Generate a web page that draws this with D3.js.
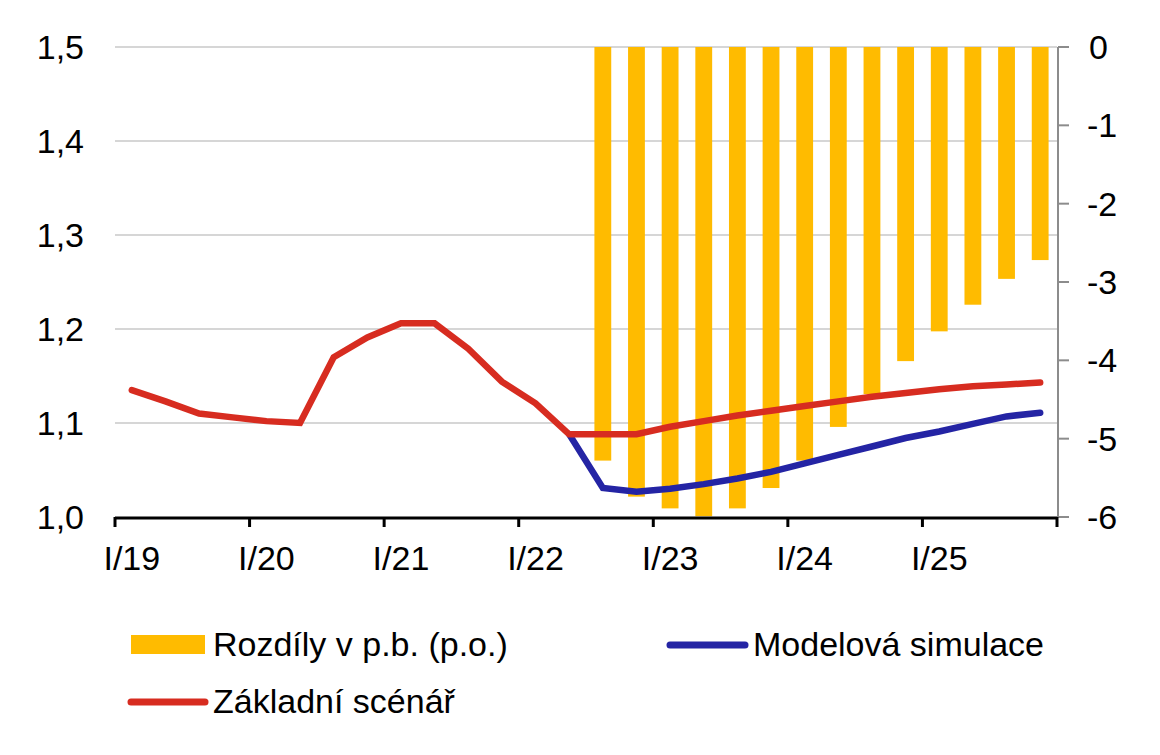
<!DOCTYPE html>
<html>
<head>
<meta charset="utf-8">
<script src="https://cdn.jsdelivr.net/npm/d3@7/dist/d3.min.js"></script>
<style>
  body { margin: 0; background: #fff; }
  text { font-family: "Liberation Sans", Arial, sans-serif; fill: #000; font-size: 34px; }
</style>
</head>
<body>
<div id="chart"></div>
<script>
// quarters I/19 .. IV/25
const years = ['19', '20', '21', '22', '23', '24', '25'];
const quarters = [];
years.forEach(y => ['I', 'II', 'III', 'IV'].forEach(q => quarters.push(q + '/' + y)));

const baseline = [1.135, 1.123, 1.110, 1.106, 1.102, 1.100, 1.170, 1.191, 1.206, 1.206,
  1.179, 1.144, 1.121, 1.088, 1.088, 1.088, 1.096, 1.102, 1.108, 1.113,
  1.118, 1.123, 1.128, 1.132, 1.136, 1.139, 1.141, 1.143];
// simulation starts at II/22
const simulation = [null, null, null, null, null, null, null, null, null, null,
  null, null, null, 1.088, 1.031, 1.027, 1.030, 1.035, 1.041, 1.048,
  1.057, 1.066, 1.075, 1.084, 1.091, 1.099, 1.107, 1.111];
// differences in p.p. (right axis), from III/22
const diffs = [null, null, null, null, null, null, null, null, null, null,
  null, null, null, null, -5.28, -5.74, -5.89, -5.99, -5.89, -5.63,
  -5.28, -4.85, -4.43, -4.01, -3.63, -3.29, -2.96, -2.72];

const leftTicks = [1.0, 1.1, 1.2, 1.3, 1.4, 1.5];
const rightTicks = [0, -1, -2, -3, -4, -5, -6];

const width = 1160, height = 755;
const plotL = 115, plotR = 1057, plotT = 47, plotB = 517;

const svg = d3.select('#chart').append('svg')
  .attr('width', width)
  .attr('height', height);

const x = d3.scaleBand().domain(quarters).range([plotL, plotR]);
const yL = d3.scaleLinear().domain([1.0, 1.5]).range([plotB, plotT]);
const yR = d3.scaleLinear().domain([-6, 0]).range([plotB, plotT]);

// gridlines
svg.append('g').selectAll('line')
  .data(leftTicks.filter(d => d > 1.0))
  .enter().append('line')
  .attr('x1', plotL).attr('x2', plotR)
  .attr('y1', d => yL(d)).attr('y2', d => yL(d))
  .attr('stroke', '#c8c8c8').attr('stroke-width', 1.5);

// left tick labels
svg.append('g').selectAll('text')
  .data(leftTicks)
  .enter().append('text')
  .attr('x', 84)
  .attr('y', d => yL(d) + 12)
  .attr('text-anchor', 'end')
  .text(d => d3.format('.1f')(d).replace('.', ','));

// bars
const barW = x.bandwidth() * 0.5;
svg.append('g').selectAll('rect')
  .data(quarters.map((q, i) => ({ q, v: diffs[i] })).filter(d => d.v != null))
  .enter().append('rect')
  .attr('x', d => x(d.q) + (x.bandwidth() - barW) / 2)
  .attr('width', barW)
  .attr('y', yR(0))
  .attr('height', d => yR(d.v) - yR(0))
  .attr('fill', '#ffbb00');

// right axis
const rAxis = svg.append('g');
rAxis.append('line')
  .attr('x1', plotR + 1).attr('x2', plotR + 1)
  .attr('y1', plotT).attr('y2', plotB)
  .attr('stroke', '#8c8c8c').attr('stroke-width', 2);
rAxis.selectAll('line.t')
  .data(rightTicks)
  .enter().append('line').attr('class', 't')
  .attr('x1', plotR + 1).attr('x2', plotR + 12)
  .attr('y1', d => yR(d)).attr('y2', d => yR(d))
  .attr('stroke', '#8c8c8c').attr('stroke-width', 2);
rAxis.selectAll('text')
  .data(rightTicks)
  .enter().append('text')
  .attr('x', d => d === 0 ? 1089 : 1087)
  .attr('y', d => yR(d) + 12)
  .text(d => d === 0 ? '0' : '-' + Math.abs(d));

// lines
const line = d3.line()
  .defined(d => d.v != null)
  .x(d => x(d.q) + x.bandwidth() / 2)
  .y(d => yL(d.v));

svg.append('path')
  .datum(quarters.map((q, i) => ({ q, v: simulation[i] })))
  .attr('d', line)
  .attr('fill', 'none')
  .attr('stroke', '#2424a4')
  .attr('stroke-width', 6.5)
  .attr('stroke-linecap', 'round');

svg.append('path')
  .datum(quarters.map((q, i) => ({ q, v: baseline[i] })))
  .attr('d', line)
  .attr('fill', 'none')
  .attr('stroke', '#d72c20')
  .attr('stroke-width', 6.5)
  .attr('stroke-linecap', 'round');

// bottom axis
const xAxis = svg.append('g');
xAxis.append('line')
  .attr('x1', plotL).attr('x2', plotR)
  .attr('y1', plotB + 1).attr('y2', plotB + 1)
  .attr('stroke', '#000').attr('stroke-width', 3);
xAxis.selectAll('line.t')
  .data(years.concat(['end']))
  .enter().append('line').attr('class', 't')
  .attr('x1', (d, i) => plotL + i * 4 * x.step())
  .attr('x2', (d, i) => plotL + i * 4 * x.step())
  .attr('y1', plotB).attr('y2', plotB + 10)
  .attr('stroke', '#000').attr('stroke-width', 3);
xAxis.selectAll('text')
  .data(years)
  .enter().append('text')
  .attr('x', d => x('I/' + d) + x.bandwidth() / 2)
  .attr('y', 570)
  .attr('text-anchor', 'middle')
  .text(d => 'I/' + d);

// legend
const legend = svg.append('g');
legend.append('rect')
  .attr('x', 131).attr('y', 635).attr('width', 74).attr('height', 19)
  .attr('fill', '#ffbb00');
legend.append('text').attr('x', 213).attr('y', 656)
  .text('Rozdíly v p.b. (p.o.)');

legend.append('line')
  .attr('x1', 670).attr('x2', 745).attr('y1', 645).attr('y2', 645)
  .attr('stroke', '#2424a4').attr('stroke-width', 7).attr('stroke-linecap', 'round');
legend.append('text').attr('x', 753).attr('y', 656)
  .text('Modelová simulace');

legend.append('line')
  .attr('x1', 131).attr('x2', 205).attr('y1', 702).attr('y2', 702)
  .attr('stroke', '#d72c20').attr('stroke-width', 7).attr('stroke-linecap', 'round');
legend.append('text').attr('x', 213).attr('y', 713)
  .text('Základní scénář');
</script>
</body>
</html>
